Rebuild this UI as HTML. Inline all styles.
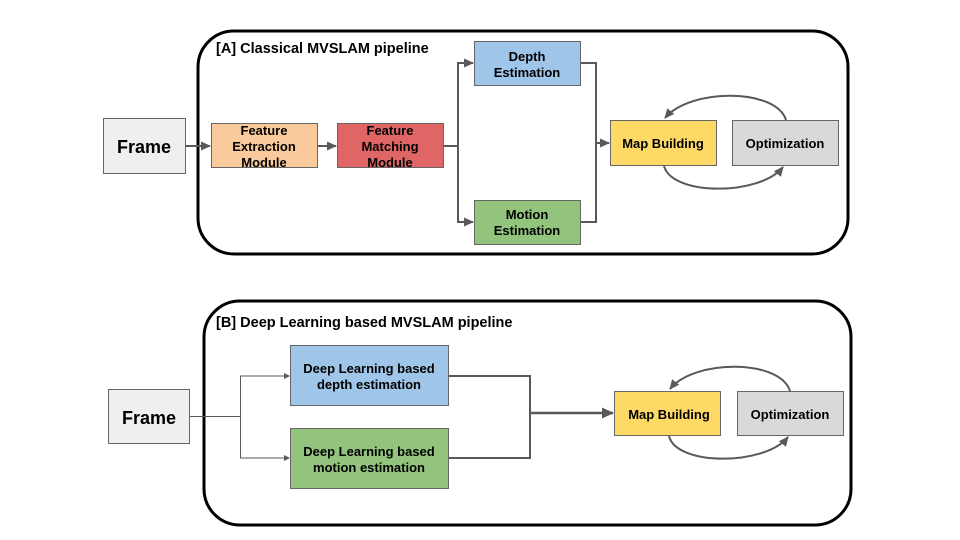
<!DOCTYPE html>
<html><head><meta charset="utf-8"><style>
html,body{margin:0;padding:0;background:#fff}
svg{display:block}
text{font-family:"Liberation Sans",sans-serif;font-weight:bold;fill:#000;text-anchor:middle}
</style></head><body>
<svg width="960" height="540" viewBox="0 0 960 540" xmlns="http://www.w3.org/2000/svg">
<defs>
<marker id="a" markerWidth="10" markerHeight="10" refX="9" refY="5" orient="auto" markerUnits="userSpaceOnUse">
<path d="M0,0.5 L10,5 L0,9.5 z" fill="#595959"/></marker>
<marker id="a2" markerWidth="12" markerHeight="12" refX="11" refY="6" orient="auto" markerUnits="userSpaceOnUse">
<path d="M0,0.5 L12,6 L0,11.5 z" fill="#595959"/></marker>
<marker id="s" markerWidth="6" markerHeight="6" refX="5" refY="3" orient="auto" markerUnits="userSpaceOnUse">
<path d="M0,0 L6,3 L0,6 z" fill="#595959"/></marker>
</defs>
<!-- Panel A -->
<rect x="198" y="31" width="650" height="223" rx="36" fill="none" stroke="#000" stroke-width="3"/>
<text x="216" y="53" font-size="14.5" style="text-anchor:start">[A] Classical MVSLAM pipeline</text>
<rect x="103.5" y="118.5" width="82" height="55" fill="#efefef" stroke="#666"/>
<text x="144" y="153" font-size="18">Frame</text>
<rect x="211.5" y="123.5" width="106" height="44" fill="#f9cb9c" stroke="#666"/>
<text x="264" y="135" font-size="13">Feature</text><text x="264" y="151" font-size="13">Extraction</text><text x="264" y="167" font-size="13">Module</text>
<rect x="337.5" y="123.5" width="106" height="44" fill="#e06666" stroke="#666"/>
<text x="390" y="135" font-size="13">Feature</text><text x="390" y="151" font-size="13">Matching</text><text x="390" y="167" font-size="13">Module</text>
<rect x="474.5" y="41.5" width="106" height="44" fill="#9fc5e8" stroke="#666"/>
<text x="527" y="61" font-size="13">Depth</text><text x="527" y="77" font-size="13">Estimation</text>
<rect x="474.5" y="200.5" width="106" height="44" fill="#93c47d" stroke="#666"/>
<text x="527" y="219" font-size="13">Motion</text><text x="527" y="235" font-size="13">Estimation</text>
<rect x="610.5" y="120.5" width="106" height="45" fill="#ffd966" stroke="#666"/>
<text x="663" y="148" font-size="13">Map Building</text>
<rect x="732.5" y="120.5" width="106" height="45" fill="#d9d9d9" stroke="#666"/>
<text x="785" y="148" font-size="13">Optimization</text>
<g stroke="#595959" stroke-width="2" fill="none">
<line x1="186" y1="146" x2="210" y2="146" marker-end="url(#a)"/>
<line x1="318" y1="146" x2="336" y2="146" marker-end="url(#a)"/>
<polyline points="444,146 458,146"/>
<polyline points="458,222 458,63 473,63" marker-end="url(#a)"/>
<polyline points="458,146 458,222 473,222" marker-end="url(#a)"/>
<polyline points="581,63 596,63 596,222 581,222"/>
<line x1="596" y1="143" x2="609" y2="143" marker-end="url(#a)"/>
<path d="M786,120 C776,88 690,88 665,118" marker-end="url(#a)"/>
<path d="M664,166 C672,196 760,196 783,167" marker-end="url(#a)"/>
</g>
<!-- Panel B -->
<rect x="204" y="301" width="647" height="224" rx="36" fill="none" stroke="#000" stroke-width="3"/>
<text x="216" y="327" font-size="14.5" style="text-anchor:start">[B] Deep Learning based MVSLAM pipeline</text>
<rect x="108.5" y="389.5" width="81" height="54" fill="#efefef" stroke="#666"/>
<text x="149" y="424" font-size="18">Frame</text>
<rect x="290.5" y="345.5" width="158" height="60" fill="#9fc5e8" stroke="#666"/>
<text x="369" y="373" font-size="13">Deep Learning based</text><text x="369" y="389" font-size="13">depth estimation</text>
<rect x="290.5" y="428.5" width="158" height="60" fill="#93c47d" stroke="#666"/>
<text x="369" y="456" font-size="13">Deep Learning based</text><text x="369" y="472" font-size="13">motion estimation</text>
<rect x="614.5" y="391.5" width="106" height="44" fill="#ffd966" stroke="#666"/>
<text x="669" y="419" font-size="13">Map Building</text>
<rect x="737.5" y="391.5" width="106" height="44" fill="#d9d9d9" stroke="#666"/>
<text x="790" y="419" font-size="13">Optimization</text>
<g stroke="#595959" fill="none">
<line x1="190" y1="416.5" x2="240" y2="416.5"/>
<polyline points="289,376 240.5,376 240.5,458 289,458" />
<line x1="250" y1="376" x2="289" y2="376" marker-end="url(#s)"/>
<line x1="250" y1="458" x2="289" y2="458" marker-end="url(#s)"/>
<polyline points="449,376 530,376 530,458 449,458" stroke-width="2"/>
<line x1="530" y1="413" x2="613" y2="413" stroke-width="2.5" marker-end="url(#a2)"/>
<path d="M790,391 C780,359 694,359 670,389" stroke-width="2" marker-end="url(#a)"/>
<path d="M669,436 C676,466 765,466 788,437" stroke-width="2" marker-end="url(#a)"/>
</g>
</svg>
</body></html>
